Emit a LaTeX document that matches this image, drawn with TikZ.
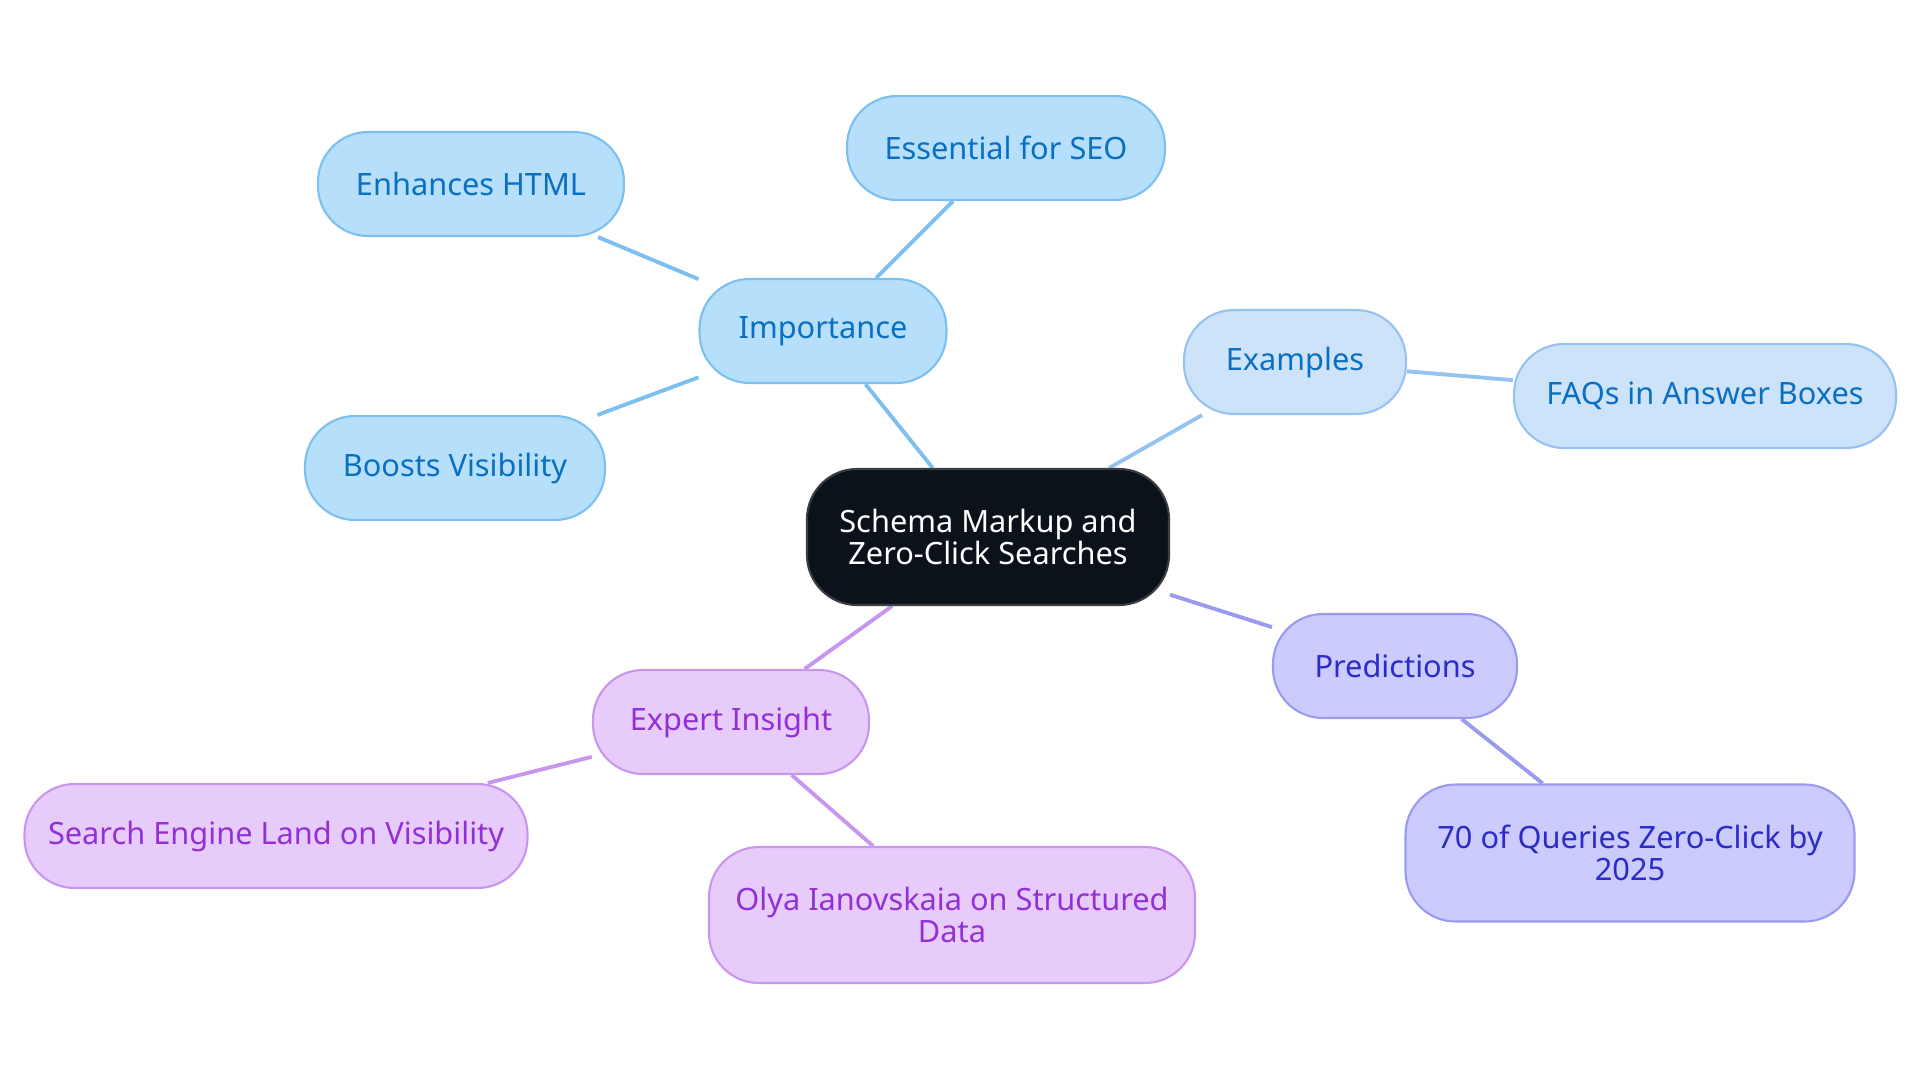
\documentclass[tikz,border=0pt]{standalone}
\usepackage{fontspec}
\setmainfont{Noto Sans}
\usetikzlibrary{backgrounds}
\definecolor{bF}{HTML}{B5DFFB}\definecolor{bS}{HTML}{7CC0F0}\definecolor{bT}{HTML}{0B6FC1}
\definecolor{eF}{HTML}{CDE3FA}\definecolor{eS}{HTML}{96C2F0}
\definecolor{pF}{HTML}{CBCBFD}\definecolor{pS}{HTML}{9A9AF0}\definecolor{pT}{HTML}{2B2BC8}
\definecolor{xF}{HTML}{E7CBFB}\definecolor{xS}{HTML}{C996EE}\definecolor{xT}{HTML}{9230D6}
\definecolor{cF}{HTML}{0C121A}
\begin{document}
\begin{tikzpicture}[x=0.02cm,y=-0.02cm,
 n/.style={draw,line width=1.2pt,rounded corners=50*0.02cm,minimum height=104*0.02cm,align=center,font=\fontsize{17.5}{18}\selectfont,inner sep=0pt},
 blue/.style={n,fill=bF,draw=bS,text=bT},
 ex/.style={n,fill=eF,draw=eS,text=bT},
 pr/.style={n,fill=pF,draw=pS,text=pT},
 xp/.style={n,fill=xF,draw=xS,text=xT},
 ed/.style={line width=2.2pt}]
\useasboundingbox (0,0) rectangle (1920,1083);
\node[n,fill=cF,draw=cF!60!gray,text=white,minimum width=362*0.02cm,minimum height=136*0.02cm] (c) at (988,537) {Schema Markup and\\Zero-Click Searches};
\node[blue,minimum width=247*0.02cm] (imp) at (823,331) {Importance};
\node[blue,minimum width=318*0.02cm] (ess) at (1006,148) {Essential for SEO};
\node[blue,minimum width=306*0.02cm] (enh) at (471,184) {Enhances HTML};
\node[blue,minimum width=300*0.02cm] (bst) at (455,468) {Boosts Visibility};
\node[ex,minimum width=222*0.02cm] (exa) at (1295,362) {Examples};
\node[ex,minimum width=382*0.02cm] (faq) at (1705,396) {FAQs in Answer Boxes};
\node[pr,minimum width=244*0.02cm] (pre) at (1395,666) {Predictions};
\node[pr,minimum width=449*0.02cm,minimum height=137*0.02cm] (sev) at (1630,853) {70 of Queries Zero-Click by\\2025};
\node[xp,minimum width=276*0.02cm] (exp) at (731,722) {Expert Insight};
\node[xp,minimum width=503*0.02cm] (sea) at (276,836) {Search Engine Land on Visibility};
\node[xp,minimum width=486*0.02cm,minimum height=136*0.02cm] (oly) at (952,915) {Olya Ianovskaia on Structured\\Data};
\begin{scope}[on background layer]
\draw[ed,bS] (c) -- (imp); \draw[ed,bS] (imp) -- (ess); \draw[ed,bS] (imp) -- (enh); \draw[ed,bS] (imp) -- (bst);
\draw[ed,eS] (c) -- (exa); \draw[ed,eS] (exa) -- (faq);
\draw[ed,pS] (c) -- (pre); \draw[ed,pS] (pre) -- (sev);
\draw[ed,xS] (c) -- (exp); \draw[ed,xS] (exp) -- (sea); \draw[ed,xS] (exp) -- (oly);
\end{scope}
\end{tikzpicture}
\end{document}
